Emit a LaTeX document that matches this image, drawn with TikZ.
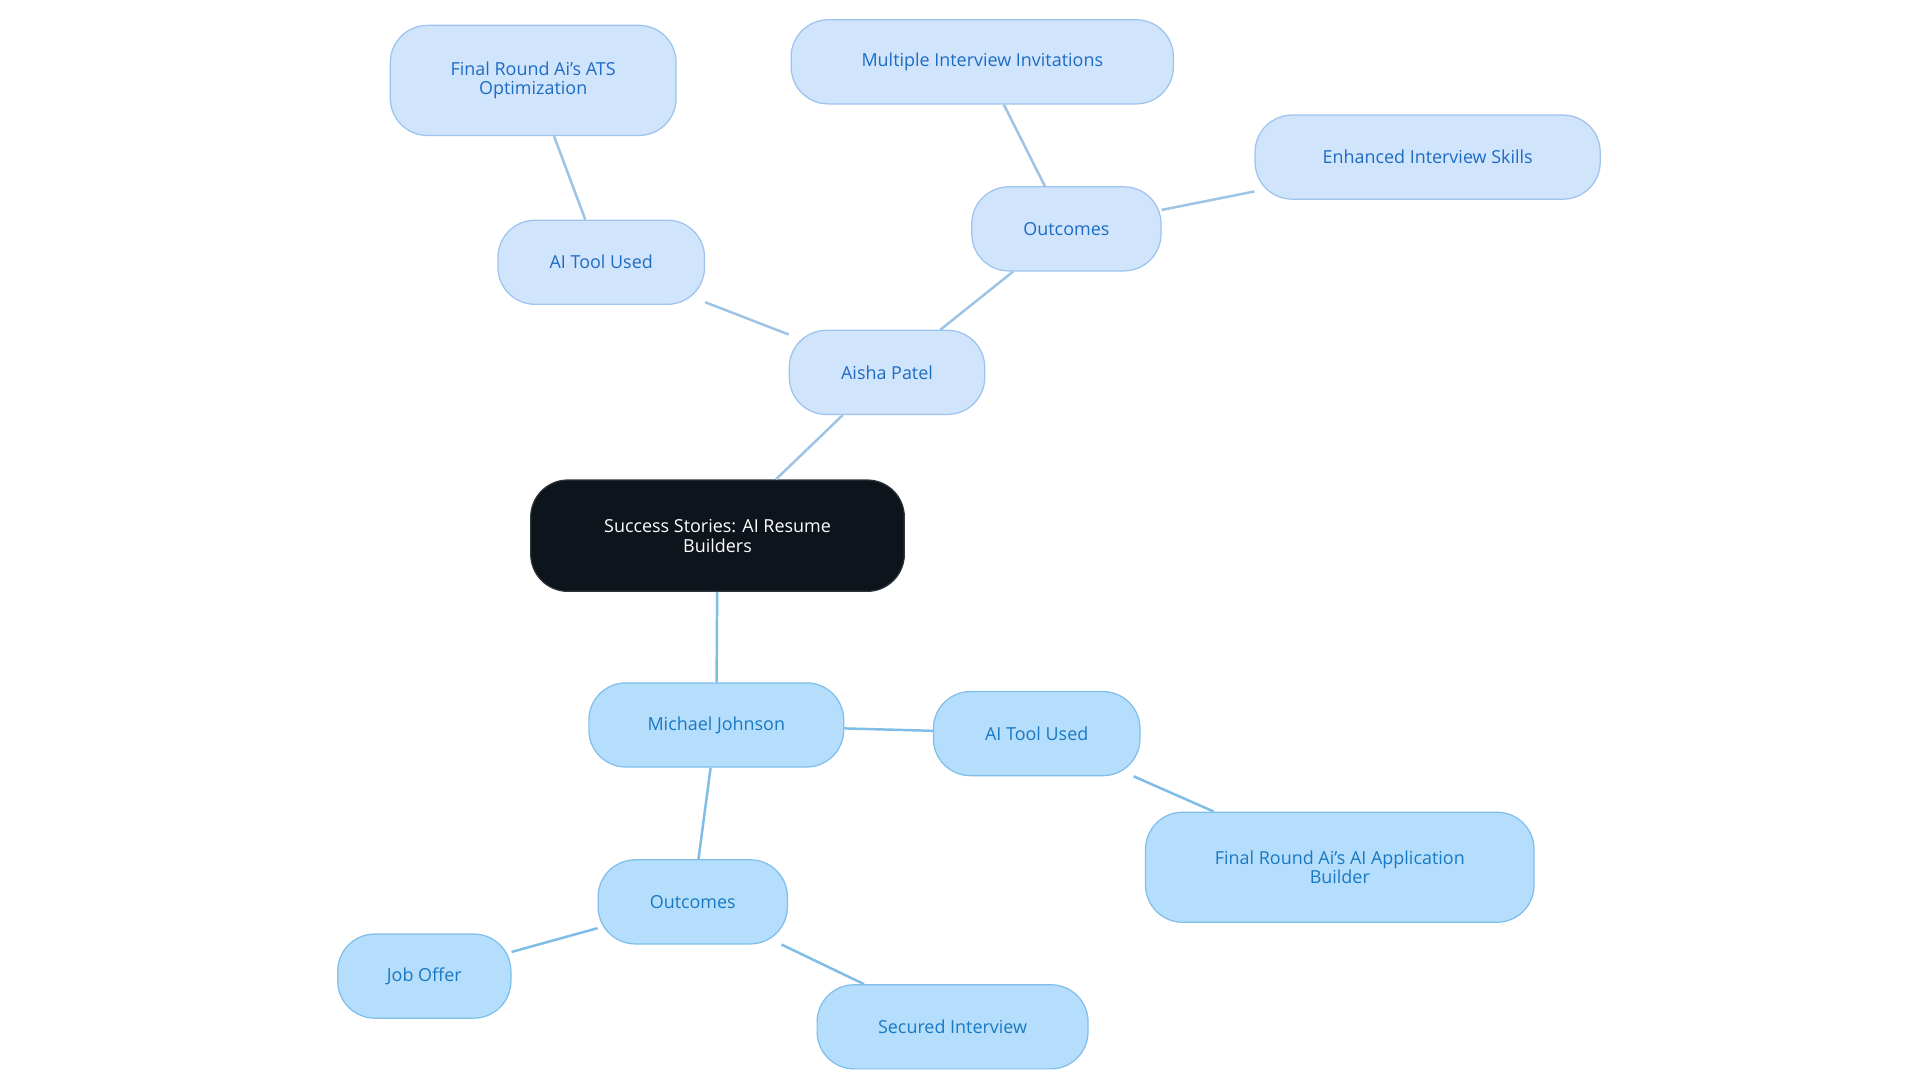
\documentclass[tikz,border=0pt]{standalone}
\usepackage{fontspec}
\setmainfont{Open Sans}
\definecolor{tfill}{HTML}{D0E4FB}
\definecolor{tdraw}{HTML}{9DC3EE}
\definecolor{ttext}{HTML}{1E6BC4}
\definecolor{bfill}{HTML}{B4DEFC}
\definecolor{bdraw}{HTML}{80BFEA}
\definecolor{btext}{HTML}{1A78C2}
\definecolor{cfill}{HTML}{0D141B}
\definecolor{tedge}{HTML}{9DC3E6}
\definecolor{bedge}{HTML}{7FBCE6}
\begin{document}
\begin{tikzpicture}[x=1pt,y=-1pt,
  base/.style={rounded corners=30pt,inner sep=0pt,align=center,font=\fontsize{14.5}{16}\selectfont,line width=1pt},
  top/.style={base,fill=tfill,draw=tdraw,text=ttext},
  bot/.style={base,fill=bfill,draw=bdraw,text=btext},
  ctr/.style={base,fill=cfill,draw=cfill!70!gray,text=white},
  te/.style={draw=tedge,line width=2pt},
  be/.style={draw=bedge,line width=2pt}]
\useasboundingbox (0,0) rectangle (1552,875);
\node[ctr,minimum width=302pt,minimum height=90pt] (c) at (580,433) {Success Stories: AI Resume\\Builders};
\node[top,minimum width=158pt,minimum height=68pt] (a) at (717,301) {Aisha Patel};
\node[top,minimum width=167pt,minimum height=68pt] (at) at (486,212) {AI Tool Used};
\node[top,minimum width=231pt,minimum height=89pt] (ats) at (431,65) {Final Round Ai's ATS\\Optimization};
\node[top,minimum width=153pt,minimum height=68pt] (ao) at (862,185) {Outcomes};
\node[top,minimum width=309pt,minimum height=68pt] (mi) at (794,50) {Multiple Interview Invitations};
\node[top,minimum width=279pt,minimum height=68pt] (en) at (1154,127) {Enhanced Interview Skills};
\node[bot,minimum width=206pt,minimum height=68pt] (m) at (579,586) {Michael Johnson};
\node[bot,minimum width=167pt,minimum height=68pt] (mt) at (838,593) {AI Tool Used};
\node[bot,minimum width=314pt,minimum height=89pt] (app) at (1083,701) {Final Round Ai's AI Application\\Builder};
\node[bot,minimum width=153pt,minimum height=68pt] (mo) at (560,729) {Outcomes};
\node[bot,minimum width=140pt,minimum height=68pt] (jo) at (343,789) {Job Offer};
\node[bot,minimum width=219pt,minimum height=68pt] (si) at (770,830) {Secured Interview};
\begin{scope}[on background layer/.style={}]
\end{scope}
\path[te] (c) -- (a);
\path[te] (a) -- (at);
\path[te] (at) -- (ats);
\path[te] (a) -- (ao);
\path[te] (ao) -- (mi);
\path[te] (ao) -- (en);
\path[be] (c) -- (m);
\path[be] (m) -- (mt);
\path[be] (mt) -- (app);
\path[be] (m) -- (mo);
\path[be] (mo) -- (jo);
\path[be] (mo) -- (si);
\end{tikzpicture}
\end{document}
